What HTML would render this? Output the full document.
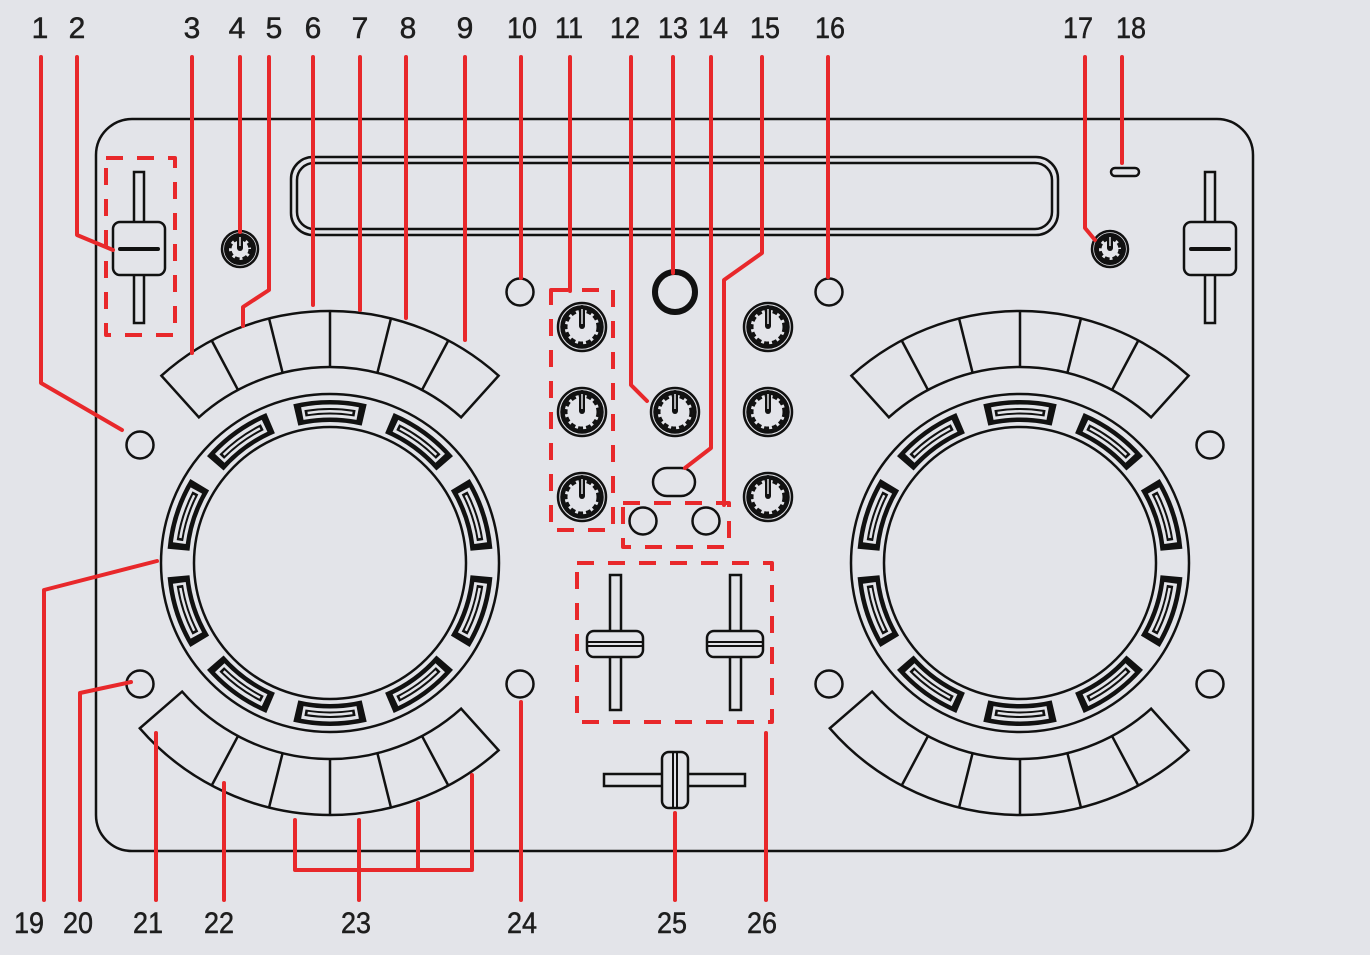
<!DOCTYPE html>
<html><head><meta charset="utf-8"><style>
html,body{margin:0;padding:0;background:#e3e4e9;}
svg{display:block}
text{font-family:"Liberation Sans",sans-serif;font-size:30px;fill:#1e1e1e;stroke:#1e1e1e;stroke-width:0.5;text-anchor:middle}
</style></head><body>
<svg id="s" width="1370" height="955" viewBox="0 0 1370 955" xmlns="http://www.w3.org/2000/svg">
<rect width="1370" height="955" fill="#e3e4e9"/>
<g fill="none" stroke="#111" stroke-width="2.5">
<rect x="96" y="119" width="1157" height="732" rx="36"/>
<rect x="291" y="157" width="767" height="78" rx="22"/>
<rect x="297" y="163" width="755" height="66" rx="17"/>
<rect x="1111" y="168" width="28" height="8" rx="4"/>
</g>
<g id="dyn"></g>
<g stroke="#e8282b" stroke-width="4" fill="none" stroke-linecap="round" stroke-linejoin="round">
<polyline points="41,57 41,383 122,430"/>
<polyline points="77,57 77,235 113,250"/>
<polyline points="192,57 192,353"/>
<polyline points="240,57 240,232"/>
<polyline points="269,57 269,290 243,307 243,326"/>
<polyline points="313,57 313,305"/>
<polyline points="360,57 360,310"/>
<polyline points="406,57 406,318"/>
<polyline points="465,57 465,340"/>
<polyline points="521,57 521,278"/>
<polyline points="570,57 570,291"/>
<polyline points="631,57 631,385 647,401"/>
<polyline points="673,57 673,273"/>
<polyline points="711,57 711,448 685,468"/>
<polyline points="762,57 762,253 724,280 724,505"/>
<polyline points="828,57 828,277"/>
<polyline points="1085,57 1085,228 1095,240"/>
<polyline points="1122,57 1122,163"/>
<polyline points="44,900 44,590 157,561"/>
<polyline points="80,900 80,693 131,682"/>
<polyline points="156,900 156,733"/>
<polyline points="224,900 224,783"/>
<polyline points="295,820 295,870 472,870 472,775"/>
<polyline points="359,820 359,900"/>
<polyline points="418,803 418,870"/>
<polyline points="521,900 521,702"/>
<polyline points="675,900 675,813"/>
<polyline points="766,900 766,733"/>
<g stroke-dasharray="17 14" stroke-linecap="butt">
<rect x="106" y="158" width="69" height="177"/>
<rect x="551" y="290" width="62" height="240"/>
<rect x="623" y="503" width="106" height="44"/>
<rect x="577" y="563" width="195" height="159"/>
</g>
</g>
<g>
<text x="40" y="38">1</text><text x="77" y="38">2</text><text x="192" y="38">3</text><text x="237" y="38">4</text><text x="274" y="38">5</text><text x="313" y="38">6</text><text x="360" y="38">7</text><text x="408" y="38">8</text><text x="465" y="38">9</text>
<text x="522" y="38" textLength="30" lengthAdjust="spacingAndGlyphs">10</text><text x="569" y="38" textLength="28" lengthAdjust="spacingAndGlyphs">11</text><text x="625" y="38" textLength="30" lengthAdjust="spacingAndGlyphs">12</text><text x="673" y="38" textLength="30" lengthAdjust="spacingAndGlyphs">13</text><text x="713" y="38" textLength="30" lengthAdjust="spacingAndGlyphs">14</text><text x="765" y="38" textLength="30" lengthAdjust="spacingAndGlyphs">15</text><text x="830" y="38" textLength="30" lengthAdjust="spacingAndGlyphs">16</text><text x="1078" y="38" textLength="30" lengthAdjust="spacingAndGlyphs">17</text><text x="1131" y="38" textLength="30" lengthAdjust="spacingAndGlyphs">18</text>
<text x="29" y="933" textLength="30" lengthAdjust="spacingAndGlyphs">19</text><text x="78" y="933" textLength="30" lengthAdjust="spacingAndGlyphs">20</text><text x="148" y="933" textLength="30" lengthAdjust="spacingAndGlyphs">21</text><text x="219" y="933" textLength="30" lengthAdjust="spacingAndGlyphs">22</text><text x="356" y="933" textLength="30" lengthAdjust="spacingAndGlyphs">23</text><text x="522" y="933" textLength="30" lengthAdjust="spacingAndGlyphs">24</text><text x="672" y="933" textLength="30" lengthAdjust="spacingAndGlyphs">25</text><text x="762" y="933" textLength="30" lengthAdjust="spacingAndGlyphs">26</text>
</g>
</svg>
<script>
var g=document.getElementById('dyn'),o='';
function P(cx,cy,r,a){a=a*Math.PI/180;return [cx+r*Math.sin(a),cy-r*Math.cos(a)];}
function f(p){return p[0].toFixed(1)+','+p[1].toFixed(1);}
function band(cx,cy,r1,r2,a1,a2){var A=P(cx,cy,r2,a1),B=P(cx,cy,r2,a2),C=P(cx,cy,r1,a2),D=P(cx,cy,r1,a1);
return 'M'+f(A)+' A'+r2+','+r2+' 0 0 1 '+f(B)+' L'+f(C)+' A'+r1+','+r1+' 0 0 0 '+f(D)+'Z';}
var S='fill="none" stroke="#111" stroke-width="2.5"';
function ln(cx,cy,r1,r2,a){var A=P(cx,cy,r1,a),B=P(cx,cy,r2,a);return '<line x1="'+A[0]+'" y1="'+A[1]+'" x2="'+B[0]+'" y2="'+B[1]+'" '+S+'/>';}
function jog(cx){var cy=563;
o+='<circle cx="'+cx+'" cy="'+cy+'" r="169" '+S+'/><circle cx="'+cx+'" cy="'+cy+'" r="136" '+S+'/>';
for(var i=0;i<10;i++){var a=i*36;
o+='<path d="'+band(cx,cy,141,163,a-13,a+13)+'" fill="#111"/>';
o+='<path d="'+band(cx,cy,145.5,158.5,a-10.5,a+10.5)+'" fill="#e3e4e9"/>';
o+='<path d="'+band(cx,cy,148.5,155,a-9.5,a+9.5)+'" fill="#111"/>';
o+='<path d="'+band(cx,cy,150.5,153,a-8.5,a+8.5)+'" fill="#e3e4e9"/>';}
o+='<path d="'+band(cx,cy,196,252,-42,42)+'" '+S+'/>';
for(var d=-28;d<=28;d+=14){o+=ln(cx,cy,196,252,d);}
o+='<path d="'+band(cx,cy,196,252,180-42,180+49)+'" '+S+'/>';
for(var d=-28;d<=28;d+=14){o+=ln(cx,cy,196,252,180+d);}
}
jog(330);jog(1020);
[[520,292],[829,292],[140,445],[1210,445],[140,684],[520,684],[829,684],[1210,684],[643,521],[706,521]].forEach(function(p){o+='<circle cx="'+p[0]+'" cy="'+p[1]+'" r="13.5" '+S+'/>';});
o+='<rect x="653" y="468" width="42" height="28" rx="14" '+S+'/>';
function knob(x,y,r,t){o+='<circle cx="'+x+'" cy="'+y+'" r="'+r+'" '+S+'/><circle cx="'+x+'" cy="'+y+'" r="'+(r-4.5)+'" fill="none" stroke="#111" stroke-width="'+t+'"/><circle cx="'+x+'" cy="'+y+'" r="'+(r-8)+'" fill="none" stroke="#111" stroke-width="3" stroke-dasharray="5 3"/><line x1="'+x+'" y1="'+(y-r+5)+'" x2="'+x+'" y2="'+(y-1)+'" stroke="#111" stroke-width="6" stroke-linecap="round"/><line x1="'+x+'" y1="'+(y-r+6)+'" x2="'+x+'" y2="'+(y-3)+'" stroke="#e3e4e9" stroke-width="1.5"/>';}
[[582,327],[582,412],[582,497],[675,412],[768,327],[768,412],[768,497]].forEach(function(p){knob(p[0],p[1],24,4.5);});
knob(240,249,18,5);knob(1110,249,18,5);
o+='<circle cx="675" cy="292" r="20" fill="none" stroke="#111" stroke-width="6"/><circle cx="675" cy="292" r="15" fill="none" stroke="#e3e4e9" stroke-width="1" stroke-dasharray="4 4"/>';
function pitch(x){o+='<rect x="'+(x-5)+'" y="172" width="10" height="151" fill="#e3e4e9" stroke="#111" stroke-width="2.5"/><rect x="'+(x-26)+'" y="222" width="52" height="53" rx="7" fill="#e3e4e9" stroke="#111" stroke-width="2.5"/><line x1="'+(x-19)+'" y1="249" x2="'+(x+19)+'" y2="249" stroke="#111" stroke-width="4" stroke-linecap="round"/>';}
pitch(139);pitch(1210);
function ch(x){o+='<rect x="'+(x-5)+'" y="575" width="11" height="135" fill="#e3e4e9" stroke="#111" stroke-width="2.5"/><rect x="'+(x-28)+'" y="631" width="56" height="26" rx="7" fill="#e3e4e9" stroke="#111" stroke-width="2.5"/><line x1="'+(x-28)+'" y1="642" x2="'+(x+28)+'" y2="642" stroke="#111" stroke-width="2"/><line x1="'+(x-28)+'" y1="646" x2="'+(x+28)+'" y2="646" stroke="#111" stroke-width="2"/>';}
ch(615);ch(735);
o+='<rect x="604" y="774" width="141" height="12" fill="#e3e4e9" stroke="#111" stroke-width="2.5"/><rect x="662" y="752" width="26" height="56" rx="7" fill="#e3e4e9" stroke="#111" stroke-width="2.5"/><line x1="673" y1="752" x2="673" y2="808" stroke="#111" stroke-width="2"/><line x1="677" y1="752" x2="677" y2="808" stroke="#111" stroke-width="2"/>';
g.innerHTML=o;
</script>
</body></html>
